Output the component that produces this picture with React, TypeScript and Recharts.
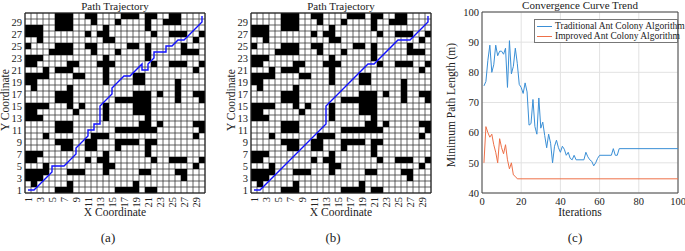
import React from "react";
import { ComposedChart, LineChart, Line, XAxis, YAxis, CartesianGrid, ReferenceArea, Legend } from "recharts";

const FONT = '"Liberation Serif", "Times New Roman", serif';

// obstacle map, first string is row y=30, last is y=1; '#' = obstacle
const obstacleRows = [
  ".....###..##....###.##..##....",
  ".....###...#...#....#..###....",
  "###..###.....#......#.........",
  "###.......#.##.......#..###..#",
  "..#..........##.............#.",
  "#....###..##.....##.#.....#...",
  "....####...#...#....#.....###.",
  "###..........#......#.........",
  "##.....##...###......#..###..#",
  "...#.###.....#..............#.",
  "####....##...#....##..........",
  "##...........#....##.....#....",
  ".#.....#.................#....",
  ".....###..........###.#..#..##",
  ".....###.......######....#...#",
  "####...#.#...#....###.........",
  "##......#....#....###.........",
  "###..........#......#.........",
  ".....###...........##.#.....##",
  ".....###.......#######.......#",
  "...#.......###..............#.",
  ".....###..##...####.##........",
  "......##..##...#....#.........",
  "###..........#......#.........",
  "##........#.##.......#..###..#",
  "...#.........##.............#.",
  "####...###...#.....##....##...",
  "###.......................#...",
  ".#.....#..........#...........",
  ".....###.......####.##........",
];

const cellTicks = [1, 3, 5, 7, 9, 11, 13, 15, 17, 19, 21, 23, 25, 27, 29];
const cellEdges = [
  0.5, 1.5, 2.5, 3.5, 4.5, 5.5, 6.5, 7.5, 8.5, 9.5, 10.5, 11.5, 12.5, 13.5, 14.5, 15.5,
  16.5, 17.5, 18.5, 19.5, 20.5, 21.5, 22.5, 23.5, 24.5, 25.5, 26.5, 27.5, 28.5, 29.5, 30.5,
];

// path of the traditional algorithm (a)
const pathA = [
  { x: 1, y: 1 }, { x: 2, y: 1 }, { x: 5, y: 4 }, { x: 5, y: 5 }, { x: 7, y: 5 },
  { x: 9, y: 7 }, { x: 9, y: 8 }, { x: 11, y: 10 }, { x: 11, y: 11 }, { x: 12, y: 11 },
  { x: 12, y: 12 }, { x: 13, y: 12 }, { x: 13, y: 15 }, { x: 15, y: 17 }, { x: 15, y: 18 },
  { x: 17, y: 20 }, { x: 18, y: 20 }, { x: 20, y: 22 }, { x: 20, y: 21 }, { x: 21, y: 21 },
  { x: 21, y: 22 }, { x: 22, y: 23 }, { x: 22, y: 24 }, { x: 24, y: 24 }, { x: 24, y: 25 },
  { x: 25, y: 25 }, { x: 26, y: 26 }, { x: 27, y: 26 }, { x: 30, y: 29 }, { x: 30, y: 30 },
];

// path of the improved algorithm (b)
const pathB = [
  { x: 1, y: 1 }, { x: 2, y: 1 }, { x: 13, y: 12 }, { x: 13, y: 15 }, { x: 20, y: 22 },
  { x: 21, y: 22 }, { x: 25, y: 26 }, { x: 27, y: 26 }, { x: 30, y: 29 }, { x: 30, y: 30 },
];

const iterTicks = [0, 20, 40, 60, 80, 100];
const lengthTicks = [40, 50, 60, 70, 80, 90, 100];
const seriesNames = ["Traditional Ant Colony Algorithm", "Improved Ant Colony Algorithm"];

// [iteration, minimum path length]
const traditional = [
  [1, 75.5], [2, 77], [3, 84], [4, 89], [5, 80], [6, 82.5], [7, 89], [8, 85.5], [9, 87], [10, 87],
  [11, 86], [12, 88], [13, 75], [14, 90.5], [15, 79.5], [16, 82], [17, 88], [18, 83], [19, 76], [20, 75],
  [21, 73], [22, 76.5], [23, 73.5], [24, 62.5], [25, 63], [26, 71], [27, 62], [28, 59.5], [29, 71.5], [30, 61.5],
  [31, 63.5], [32, 59], [33, 55], [34, 59.5], [35, 56.5], [36, 50], [37, 55.5], [38, 57.5], [39, 55], [40, 53.5],
  [41, 55.5], [42, 54.5], [43, 52.5], [44, 53.5], [45, 51.5], [46, 51], [47, 52.5], [48, 51], [52, 51], [53, 53.5],
  [54, 52], [55, 51], [56, 50.5], [57, 49], [58, 50], [59, 51.5], [60, 52.5], [66, 52.5], [67, 54.7], [68, 52.5],
  [69, 52.5], [70, 54.7], [100, 54.7],
];

const improved = [
  [1, 50], [2, 62], [3, 60], [4, 58.5], [5, 59.5], [6, 56], [7, 53.5], [8, 50], [9, 58], [10, 55],
  [11, 53], [12, 56], [13, 51], [14, 48], [15, 50], [16, 46], [17, 45.5], [18, 44.7], [100, 44.7],
];

const cells = obstacleRows.flatMap((row, i) =>
  row.split("").flatMap((c, j) => (c === "#" ? [{ x: j + 1, y: 30 - i }] : []))
);

const toPoints = (arr: number[][]) => arr.map(([x, y]) => ({ x, y }));

const tickStyle = { fontSize: 10.5, fontFamily: FONT, fill: "#222" };

const RotTick = (props: any) => {
  const { x, y, payload } = props;
  return (
    <text
      x={x}
      y={y}
      transform={`rotate(-90 ${x} ${y})`}
      textAnchor="end"
      dominantBaseline="central"
      fontSize={10.5}
      fontFamily={FONT}
      fill="#222"
    >
      {payload.value}
    </text>
  );
};

const Txt = ({ x, y, size, children, rotate }: any) => (
  <div
    style={{
      position: "absolute",
      left: x,
      top: y,
      transform: `translate(-50%, -50%)${rotate ? " rotate(-90deg)" : ""}`,
      whiteSpace: "nowrap",
      fontFamily: FONT,
      fontSize: size,
      color: "#222",
      lineHeight: 1,
    }}
  >
    {children}
  </div>
);

function GridMap({ left, path }: { left: number; path: { x: number; y: number }[] }) {
  return (
    <div style={{ position: "absolute", left, top: 0 }}>
      <ComposedChart width={230} height={251} margin={{ top: 13, right: 25, bottom: 0, left: 0 }}>
        <XAxis
          dataKey="x"
          type="number"
          domain={[0.5, 30.5]}
          ticks={cellTicks}
          interval={0}
          height={58}
          tickLine={false}
          axisLine={false}
          tickSize={2}
          tickMargin={2}
          tick={<RotTick />}
          allowDataOverflow
        />
        <YAxis
          dataKey="y"
          type="number"
          domain={[0.5, 30.5]}
          ticks={cellTicks}
          interval={0}
          width={25}
          tickLine={false}
          axisLine={false}
          tickSize={0}
          tickMargin={3}
          tick={tickStyle}
          allowDataOverflow
        />
        <CartesianGrid verticalValues={cellEdges} horizontalValues={cellEdges} stroke="#3a3a3a" strokeWidth={0.8} />
        {cells.map((c) => (
          <ReferenceArea
            key={`${c.x}-${c.y}`}
            x1={c.x - 0.5}
            x2={c.x + 0.5}
            y1={c.y - 0.5}
            y2={c.y + 0.5}
            fill="#000"
            fillOpacity={1}
            stroke="none"
          />
        ))}
        <ReferenceArea x1={0.5} x2={30.5} y1={0.5} y2={30.5} fill="none" stroke="#222" strokeWidth={1} />
        <Line
          data={path}
          dataKey="y"
          type="linear"
          stroke="#1010ff"
          strokeWidth={1.4}
          dot={false}
          isAnimationActive={false}
        />
      </ComposedChart>
    </div>
  );
}

const renderLegend = (props: any) => {
  const payload = [...(props.payload || [])].sort(
    (a: any, b: any) => seriesNames.indexOf(a.value) - seriesNames.indexOf(b.value)
  );
  return (
    <div
      style={{
        border: "1px solid #777",
        background: "#fff",
        padding: "1px 3px 1px 2px",
        fontFamily: FONT,
        fontSize: 9.5,
        color: "#222",
        lineHeight: "10px",
        whiteSpace: "nowrap",
        boxSizing: "border-box",
        width: 144,
      }}
    >
      {payload.map((p: any) => (
        <div key={p.value} style={{ display: "flex", alignItems: "center" }}>
          <span style={{ display: "inline-block", width: 15, height: 1, background: p.color, marginRight: 3, flexShrink: 0 }} />
          <span>{p.value}</span>
        </div>
      ))}
    </div>
  );
};

function Convergence() {
  return (
    <div style={{ position: "absolute", left: 440, top: 0 }}>
      <LineChart width={245} height={251} margin={{ top: 12, right: 7, bottom: 0, left: 0 }}>
        <CartesianGrid stroke="#e2e2e2" />
        <XAxis
          dataKey="x"
          type="number"
          domain={[0, 100]}
          ticks={iterTicks}
          interval={0}
          height={58}
          tickLine={false}
          axisLine={false}
          tickSize={0}
          tickMargin={5}
          tick={tickStyle}
        />
        <YAxis
          type="number"
          domain={[40, 100]}
          ticks={lengthTicks}
          interval={0}
          width={42}
          tickLine={false}
          axisLine={false}
          tickSize={0}
          tickMargin={3}
          tick={tickStyle}
        />
        <ReferenceArea x1={0} x2={100} y1={40} y2={100} fill="none" stroke="#444" strokeWidth={1} />
        <Line
          name={seriesNames[0]}
          data={toPoints(traditional)}
          dataKey="y"
          type="linear"
          stroke="#3a8fd6"
          strokeWidth={1}
          dot={false}
          isAnimationActive={false}
        />
        <Line
          name={seriesNames[1]}
          data={toPoints(improved)}
          dataKey="y"
          type="linear"
          stroke="#ee7048"
          strokeWidth={1}
          dot={false}
          isAnimationActive={false}
        />
        <Legend
          layout="vertical"
          align="center"
          verticalAlign="middle"
          content={renderLegend}
          wrapperStyle={{ top: 19, left: 94, width: 144 }}
        />
      </LineChart>
    </div>
  );
}

export default function App() {
  return (
    <div style={{ position: "absolute", left: 0, top: 0, width: 685, height: 251, background: "#fff", overflow: "hidden" }}>
      <GridMap left={0} path={pathA} />
      <GridMap left={226} path={pathB} />
      <Convergence />
      <Txt x={115} y={6} size={11}>Path Trajectory</Txt>
      <Txt x={341} y={6} size={11}>Path Trajectory</Txt>
      <Txt x={580} y={5} size={11}>Convergence Curve Trend</Txt>
      <Txt x={115} y={213} size={11.5}>X Coordinate</Txt>
      <Txt x={341} y={213} size={11.5}>X Coordinate</Txt>
      <Txt x={580} y={213} size={11.5}>Iterations</Txt>
      <Txt x={6} y={100} size={11.5} rotate>Y Coordinate</Txt>
      <Txt x={232} y={100} size={11.5} rotate>Y Coordinate</Txt>
      <Txt x={452} y={105} size={11.5} rotate>Minimum Path Length (m)</Txt>
      <Txt x={108} y={237} size={13}>(a)</Txt>
      <Txt x={333} y={237} size={13}>(b)</Txt>
      <Txt x={575} y={237} size={13}>(c)</Txt>
    </div>
  );
}
